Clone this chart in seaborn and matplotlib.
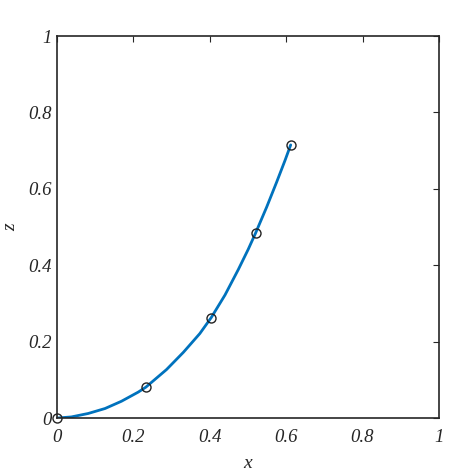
import matplotlib
matplotlib.use("Agg")
import matplotlib.pyplot as plt
import seaborn as sns
import pandas as pd

# curve points
curve_x = [0, 0.038, 0.082, 0.126, 0.169, 0.213, 0.233, 0.287, 0.331, 0.374,
           0.404, 0.440, 0.475, 0.501, 0.520, 0.549, 0.575, 0.597, 0.612]
curve_z = [0, 0.003, 0.012, 0.025, 0.044, 0.068, 0.081, 0.127, 0.172, 0.221,
           0.263, 0.322, 0.389, 0.442, 0.484, 0.552, 0.617, 0.674, 0.715]
# marker points
mark_x = [0, 0.233, 0.404, 0.520, 0.612]
mark_z = [0, 0.081, 0.263, 0.484, 0.715]
ticks = [0, 0.2, 0.4, 0.6, 0.8, 1]
tick_labels = ["0", "0.2", "0.4", "0.6", "0.8", "1"]

sns.set_style("white")
plt.rcParams["font.family"] = ["Liberation Serif", "DejaVu Serif"]
plt.rcParams["font.style"] = "italic"

fig = plt.figure(figsize=(4.74, 4.74), dpi=100)
ax = fig.add_axes([0.120, 0.118, 0.806, 0.806])

curve = pd.DataFrame({"x": curve_x, "z": curve_z})
sns.lineplot(data=curve, x="x", y="z", ax=ax, color="#0072BD", lw=2.0, sort=False)
ax.plot(mark_x, mark_z, linestyle="none", marker="o", markersize=6.5,
        markerfacecolor="none", markeredgecolor="#222222", markeredgewidth=1.0, clip_on=False)

ax.set_xlim(0, 1)
ax.set_ylim(0, 1)
ax.set_xticks(ticks)
ax.set_yticks(ticks)
ax.set_xticklabels(tick_labels, fontsize=13.5, style="italic")
ax.set_yticklabels(tick_labels, fontsize=13.5, style="italic")
ax.tick_params(direction="in", length=4, width=0.8, color="#262626",
               top=True, right=True, labelcolor="#262626")
ax.tick_params(axis="x", pad=8)
ax.tick_params(axis="y", pad=4)
for s in ax.spines.values():
    s.set_visible(True)
    s.set_color("#262626")
    s.set_linewidth(1.2)
ax.set_xlabel("x", fontsize=14, style="italic", color="#262626", labelpad=6)
ax.set_ylabel("z", fontsize=14, style="italic", color="#262626", labelpad=6)

fig.savefig("out.png", dpi=100)
